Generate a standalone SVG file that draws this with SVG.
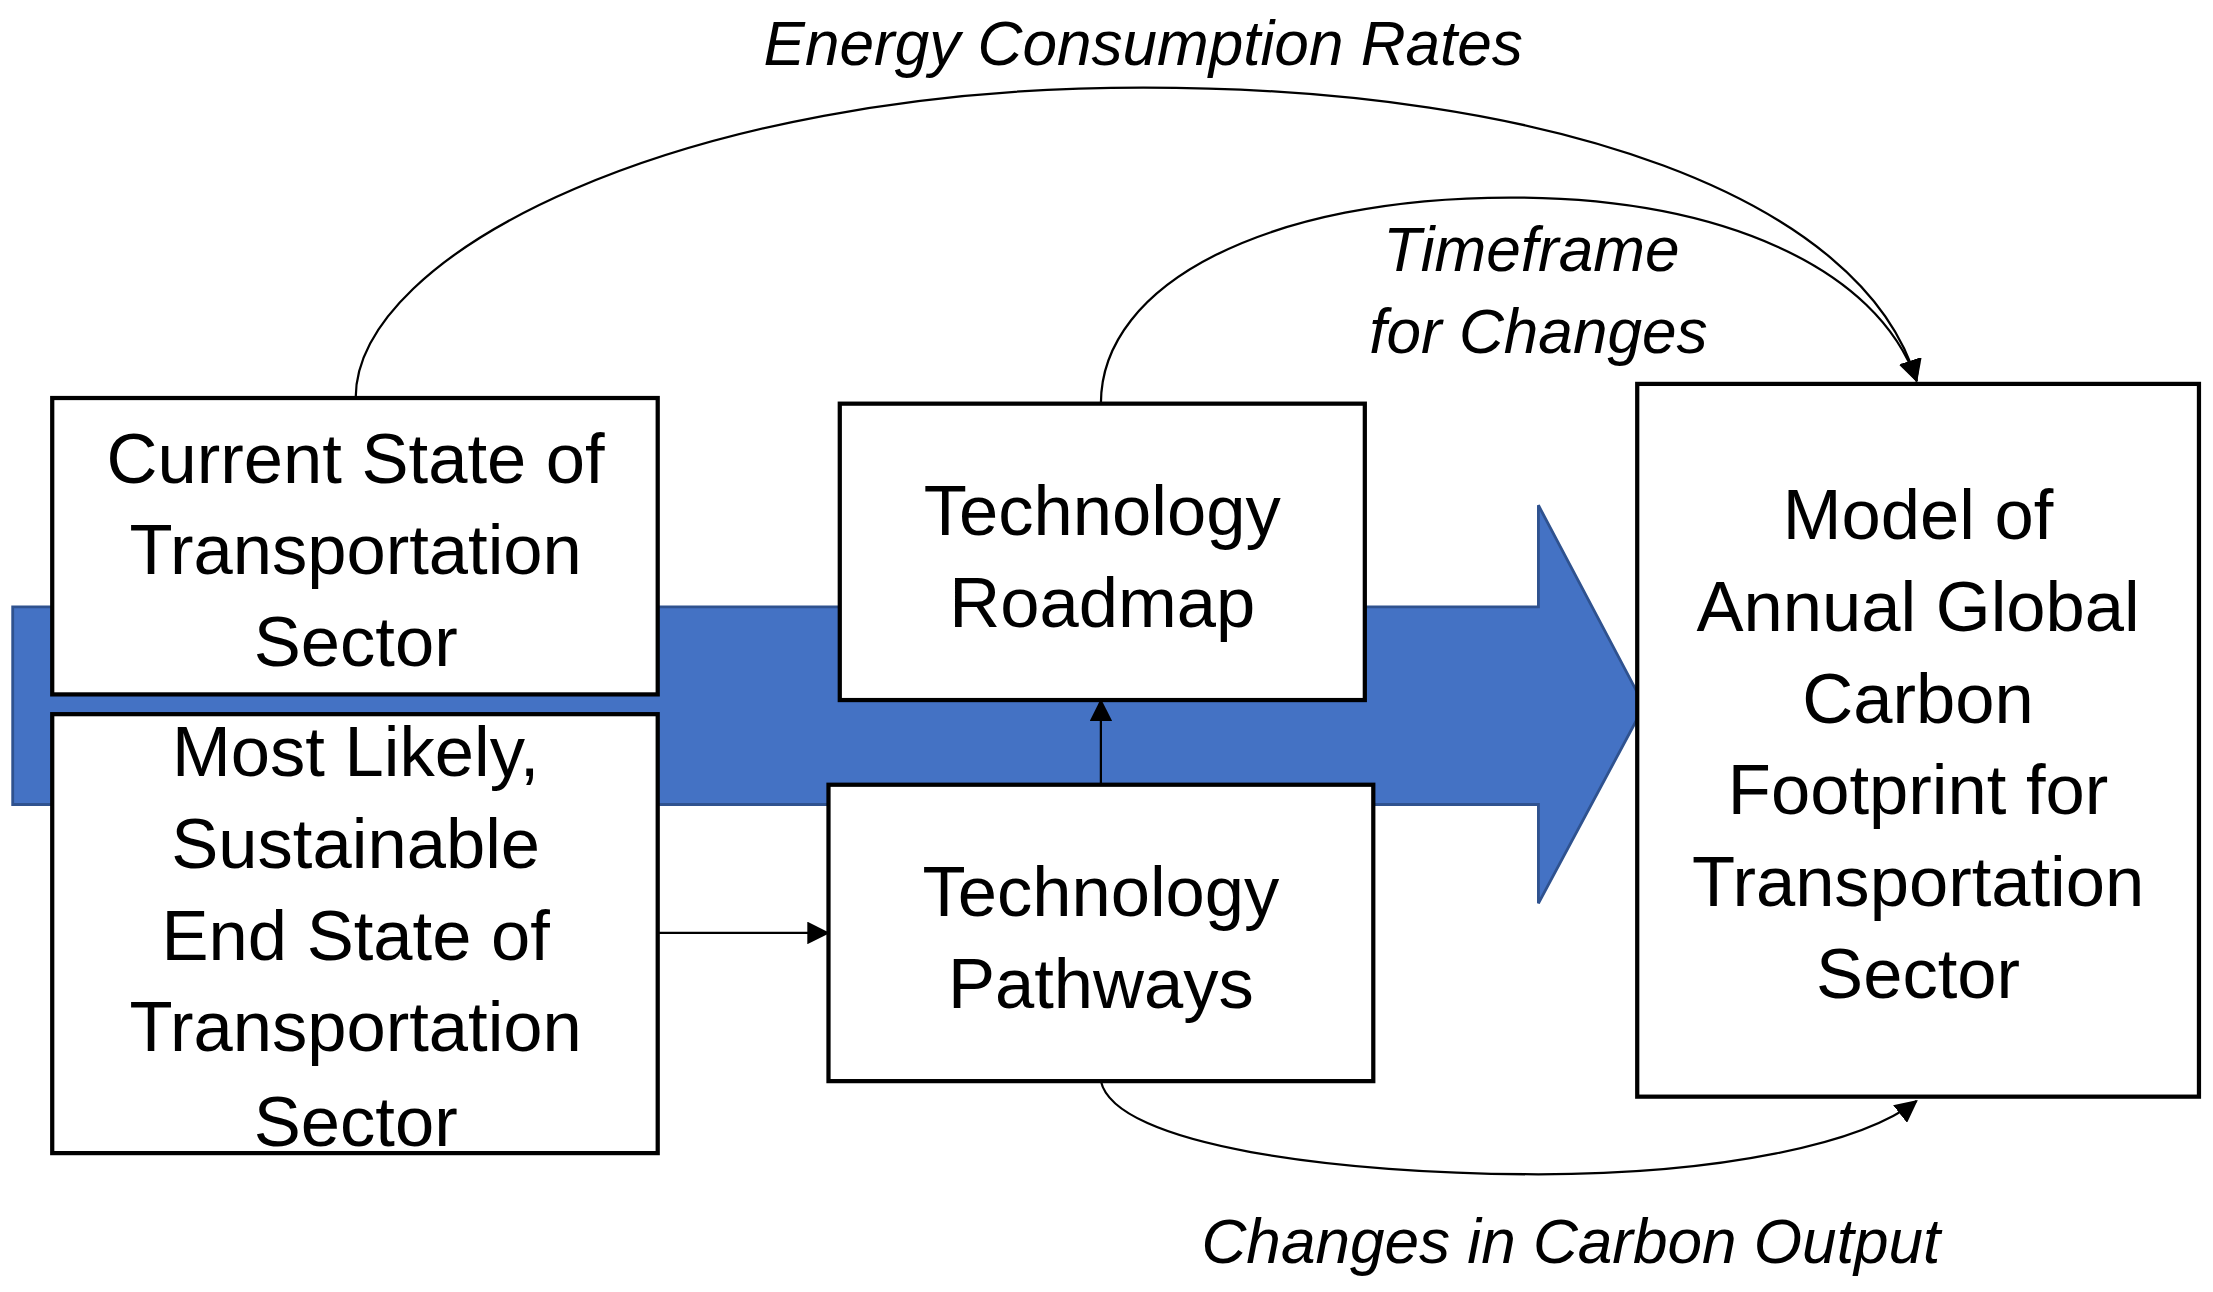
<svg xmlns="http://www.w3.org/2000/svg" width="2213" height="1292" viewBox="0 0 2213 1292">
<style>
.box{fill:#fff;stroke:#000;stroke-width:3}
.t{font-family:"Liberation Sans",Arial,sans-serif;font-size:50px;text-anchor:middle;fill:#000}
.l{font-family:"Liberation Sans",Arial,sans-serif;font-size:44px;font-style:italic;text-anchor:middle;fill:#000}
.c{fill:none;stroke:#000;stroke-width:1.6}
</style>
<defs><marker id="a" markerWidth="10" markerHeight="10" refX="9" refY="5" orient="auto" markerUnits="userSpaceOnUse" viewBox="0 0 10 10"><path d="M0,0L10,5L0,10z" fill="#000"/></marker>
<marker id="b" markerWidth="16" markerHeight="16" refX="15" refY="8" orient="auto" markerUnits="userSpaceOnUse" viewBox="0 0 16 16"><path d="M0,0L16,8L0,16z" fill="#000"/></marker></defs>
<rect width="2213" height="1292" fill="#fff"/>
<g transform="scale(1.4114)">
<path id="bigarrow" d="M9,430H1090V358L1165,500L1090,640V570H9Z" fill="#4472C4" stroke="#2F528F" stroke-width="2"/>
<g id="current"><rect class="box" x="37" y="282" width="429" height="210"/><text class="t"><tspan x="252" y="342">Current State of</tspan><tspan x="252" y="407">Transportation</tspan><tspan x="252" y="472">Sector</tspan></text></g>
<g id="endstate"><rect class="box" x="37" y="506" width="429" height="311"/><text class="t"><tspan x="252" y="550">Most Likely,</tspan><tspan x="252" y="615">Sustainable</tspan><tspan x="252" y="680">End State of</tspan><tspan x="252" y="745">Transportation</tspan><tspan x="252" y="812">Sector</tspan></text></g>
<g id="roadmap"><rect class="box" x="595" y="286" width="372" height="210"/><text class="t"><tspan x="781" y="379">Technology</tspan><tspan x="781" y="444">Roadmap</tspan></text></g>
<g id="pathways"><rect class="box" x="587" y="556" width="386" height="210"/><text class="t"><tspan x="780" y="649">Technology</tspan><tspan x="780" y="714">Pathways</tspan></text></g>
<g id="model"><rect class="box" x="1160" y="272" width="398" height="505"/><text class="t"><tspan x="1359" y="382">Model of</tspan><tspan x="1359" y="447">Annual Global</tspan><tspan x="1359" y="512">Carbon</tspan><tspan x="1359" y="577">Footprint for</tspan><tspan x="1359" y="642">Transportation</tspan><tspan x="1359" y="707">Sector</tspan></text></g>
<g id="connectors">
<path class="c" d="M466,661H587" marker-end="url(#b)"/>
<path class="c" d="M780,556V496" marker-end="url(#b)"/>
<path class="c" d="M252,282C252,180 480,62 810,62C1100,62 1320,140 1358,270" marker-end="url(#b)"/>
<path class="c" d="M780,286C780,200 900,140 1070,140C1220,140 1330,190 1358,270" marker-end="url(#b)"/>
<path class="c" d="M780,766C790,812 950,832 1090,832C1220,832 1320,810 1358,780" marker-end="url(#b)"/>
</g>
<text class="l" x="810" y="46">Energy Consumption Rates</text>
<text class="l"><tspan x="1085" y="192">Timeframe</tspan><tspan x="1090" y="250">for Changes</tspan></text>
<text class="l" x="1113" y="895">Changes in Carbon Output</text>
</g>
</svg>
